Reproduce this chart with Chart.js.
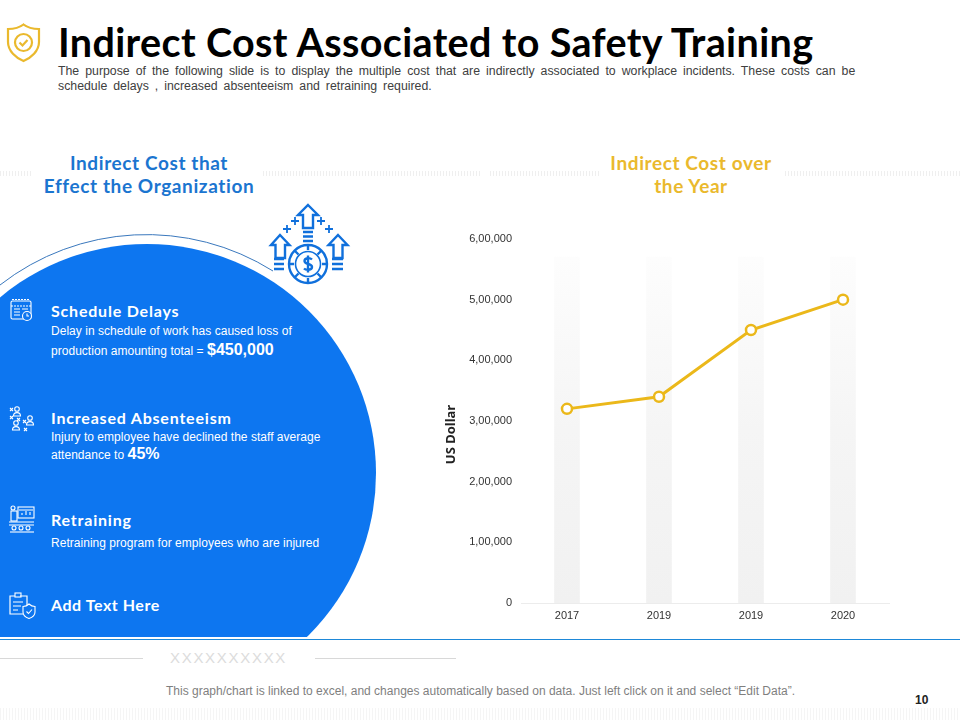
<!DOCTYPE html>
<html>
<head>
<meta charset="utf-8">
<script src="https://cdn.jsdelivr.net/npm/chart.js@4"></script>
<style>
  html, body { margin: 0; padding: 0; background: #fff; }
  #slide { position: relative; width: 960px; height: 720px; overflow: hidden; background: #fff; font-family: "Liberation Sans", Arial, sans-serif; }
  #slide div { position: absolute; white-space: nowrap; }
  svg { position: absolute; left: 0; top: 0; }
  #chartWrap { left: 440px; top: 225px; width: 460px; height: 410px; }
  .head { font-family: Lato, sans-serif; font-weight: 700; font-size: 19px; line-height: 23px; text-align: center; letter-spacing: .6px; }
  .item { font-family: Lato, sans-serif; font-weight: 700; font-size: 16px; color: #fff; left: 51px; letter-spacing: .8px; }
  .body { font-size: 12px; color: #fff; left: 51px; letter-spacing: .03px; }
  .body b { font-size: 16px; letter-spacing: 0; }
</style>
</head>
<body>
<div id="slide">
  <svg width="960" height="720" viewBox="0 0 960 720" fill="none">
    <!-- dotted bands -->
    <path d="M0 173.5H33M263 173.5H480M490 173.5H600M785 173.5H960" stroke="#efefef" stroke-width="5" stroke-dasharray="1 2"/>
    <path d="M0 714H960" stroke="#f5f5f5" stroke-width="12" stroke-dasharray="1 2"/>
    <!-- big circle, cut by the footer line -->
    <clipPath id="cut"><rect x="0" y="0" width="960" height="637"/></clipPath>
    <circle cx="147" cy="473" r="229" fill="#0d76f0" clip-path="url(#cut)"/>
    <path d="M0 285A238 238 0 0 1 273 271" stroke="#3a78bd" stroke-width="1"/>
    <rect x="0" y="639" width="960" height="1" fill="#1e88d8"/>
    <path d="M0 658.5H143M315 658.5H456" stroke="#d8d8d8"/>
    <!-- shield -->
    <g stroke="#eab92d" stroke-width="2.2">
      <path d="M23.5 24.5C19 28 14 29 8 29V42C8 51 16 58 23.5 61C31 58 39 51 39 42V29C33 29 28 28 23.5 24.5Z"/>
      <circle cx="23.5" cy="42.5" r="8.5"/>
      <path d="M19.5 42.5L22.5 45.5L27.5 40"/>
    </g>
    <!-- coin and arrows -->
    <g stroke="#1070dc" stroke-width="2.4">
      <circle cx="308" cy="264" r="19"/>
      <circle cx="308" cy="264" r="12.5" stroke-width="1.6"/>
      <path d="M308 245V250M308 278V283M289 264H294M322 264H327M295 251L298.500 254.500M321 251L317.500 254.500M295 277L298.500 273.500M321 277L317.500 273.500"/>
      <path d="M312 259.500C310 257.500 304.500 257.500 304.500 261C304.500 265 312 263 312 267C312 270.500 306 270.500 304 268.500M308 255.500V272.500"/>
      <path d="M308 205L318 215H313V228H303V215H298Z"/>
      <path d="M280 235L289.500 245H285V258H275.500V245H271Z"/>
      <path d="M338 235L347.500 245H342.500V258H333.500V245H328.500Z"/>
      <path d="M303 232H313M303 236.500H313M303 241H313"/>
      <path d="M274 259H284M274 264H284M274 269H284M332 259H343M332 264H343M332 269H343"/>
      <path d="M283 229H291M287 225V233M291 221H299M295 217V225M317 221H325M321 217V225M325 229H333M329 225V233" stroke-width="1.8"/>
    </g>
    <!-- list icons -->
    <g stroke="#fff" stroke-width="1.1">
      <rect x="11" y="301" width="20" height="18" rx="1.500"/>
      <path d="M11 306H31M12 299.500H30" stroke-dasharray="2 1"/>
      <path d="M14 309H20M14 312H20M14 315H20M22 309H28"/>
      <circle cx="27" cy="316" r="4.500" fill="#0d76f0"/>
      <path d="M27 313.500V316H29"/>
      <circle cx="17" cy="409" r="2.300"/>
      <path d="M13.500 416C13.500 411.500 20.500 411.500 20.500 416Z"/>
      <circle cx="30" cy="418" r="2.300"/>
      <path d="M26.500 425C26.500 420.500 33.500 420.500 33.500 425Z"/>
      <circle cx="16" cy="423" r="2.300"/>
      <path d="M12.500 430C12.500 425.500 19.500 425.500 19.500 430Z"/>
      <path d="M10 408L13 411M13 408L10 411M10 416L13 419M13 416L10 419M17 418L20 421M20 418L17 421M23 420L26 423M26 420L23 423M24 428L27 431M27 428L24 431"/>
      <rect x="18" y="507" width="16" height="11"/>
      <path d="M19 510H33M22 515V513M26 515V511M30 515V512"/>
      <rect x="11" y="511" width="6" height="10"/>
      <circle cx="13" cy="508" r="2"/>
      <path d="M9 522H34M9 525H34"/>
      <circle cx="14" cy="528" r="2"/><circle cx="21" cy="528" r="2"/><circle cx="28" cy="528" r="2"/>
      <path d="M10 532H34"/>
      <path d="M23 614H10V596H15M27 607V596H20" stroke-width="1.200"/>
      <rect x="15" y="593" width="6" height="4"/>
      <path d="M13 602H23M13 606H21M13 610H18"/>
      <path d="M29 604C27 606 25 606.500 23 606.500V612C23 615 26 617.500 29 618.500C32 617.500 35 615 35 612V606.500C33 606.500 31 606 29 604Z" fill="#0d76f0"/>
      <path d="M26.500 611.500L28.500 613.500L32 609.500"/>
    </g>
  </svg>

  <div style="left:58px;top:18px;font-family:Lato,sans-serif;font-weight:700;font-size:39.500px;line-height:48px;color:#000;letter-spacing:.36px">Indirect Cost Associated to Safety Training</div>
  <div style="left:58px;top:64px;font-size:12.300px;line-height:15px;color:#404040;word-spacing:2.600px">The purpose of the following slide is to display the multiple cost that are indirectly associated to workplace incidents. These costs can be<br>schedule delays , increased absenteeism and retraining required.</div>

  <div class="head" style="left:30px;top:151px;width:238px;color:#1b75d0">Indirect Cost that<br>Effect the Organization</div>
  <div class="head" style="left:572px;top:151px;width:238px;color:#eab92d">Indirect Cost over<br>the Year</div>

  <div class="item" style="top:301px">Schedule Delays</div>
  <div class="body" style="top:324px">Delay in schedule of work has caused loss of</div>
  <div class="body" style="top:341px">production amounting total = <b>$450,000</b></div>
  <div class="item" style="top:408px">Increased Absenteeism</div>
  <div class="body" style="top:430px">Injury to employee have declined the staff average</div>
  <div class="body" style="top:445px">attendance to <b>45%</b></div>
  <div class="item" style="top:510px">Retraining</div>
  <div class="body" style="top:536px">Retraining program for employees who are injured</div>
  <div class="item" style="top:595px;letter-spacing:.55px">Add Text Here</div>

  <div style="left:170px;top:649px;font-size:15px;color:#dcdcdc;letter-spacing:1.700px">XXXXXXXXXX</div>
  <div style="left:166px;top:684px;font-size:12px;color:#7f7f7f">This graph/chart is linked to excel, and changes automatically based on data. Just left click on it and select “Edit Data”.</div>
  <div style="left:915px;top:693px;font-size:12px;font-weight:700;color:#222">10</div>

  <div id="chartWrap"><canvas id="costChart" width="460" height="410"></canvas></div>
</div>

<script>
const categories = ["2017", "2019", "2019", "2020"];
const costValues = [320000, 340000, 450000, 500000];
const backdropValues = [570000, 570000, 570000, 570000];
const yTickLabels = ["0", "1,00,000", "2,00,000", "3,00,000", "4,00,000", "5,00,000", "6,00,000"];

function backdropFill(ctx) {
  const area = ctx.chart.chartArea;
  if (!area) return "#f2f2f2";
  const g = ctx.chart.ctx.createLinearGradient(0, area.bottom, 0, area.top + 18);
  g.addColorStop(0, "#f1f1f1");
  g.addColorStop(0.5, "#f5f5f5");
  g.addColorStop(1, "#fdfdfd");
  return g;
}

new Chart(document.getElementById("costChart"), {
  data: {
    labels: categories,
    datasets: [
      {
        type: "line",
        label: "Indirect Cost",
        data: costValues,
        order: 1,
        tension: 0,
        borderColor: "#ebb81a",
        borderWidth: 3,
        pointRadius: 5,
        pointBorderWidth: 2.5,
        pointBackgroundColor: "#ffffff",
        pointBorderColor: "#ebb81a",
      },
      {
        type: "bar",
        label: "Backdrop",
        data: backdropValues,
        order: 2,
        barThickness: 25,
        backgroundColor: backdropFill,
      },
    ],
  },
  options: {
    responsive: false,
    animation: false,
    layout: { padding: { top: 14, right: 11 } },
    plugins: { legend: { display: false }, tooltip: { enabled: false } },
    scales: {
      x: {
        grid: { display: false, drawTicks: false },
        border: { color: "#ececec" },
        ticks: { color: "#333", font: { family: "Liberation Sans", size: 11 }, padding: 6 },
        afterFit: (scale) => { scale.height = 32; },
      },
      y: {
        min: 0,
        max: 600000,
        grid: { display: false, drawTicks: false },
        border: { display: false },
        // tick padding would otherwise push the plot top down
        afterFit: (scale) => { scale.width = 81; scale.paddingTop = 0; },
        title: {
          display: true,
          // trailing spaces nudge the title down from the axis centre, as in the slide
          text: "US Dollar        ",
          color: "#222",
          font: { family: "Noto Sans", size: 13, weight: "bold" },
          padding: { top: 3, bottom: 0 },
        },
        ticks: {
          stepSize: 100000,
          color: "#333",
          padding: 9,
          font: { family: "Liberation Sans", size: 11 },
          callback: (value, index) => yTickLabels[index],
        },
      },
    },
  },
});
</script>
</body>
</html>
